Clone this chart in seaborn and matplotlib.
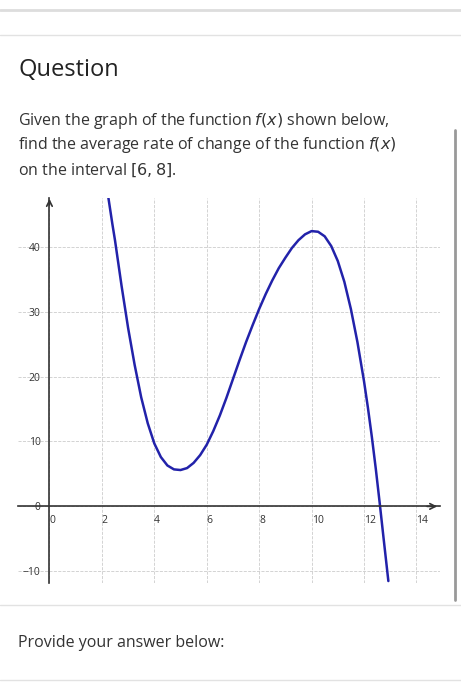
import matplotlib
matplotlib.use('Agg')
import matplotlib.pyplot as plt
import seaborn as sns
import pandas as pd

# points
x_vals = [2.25, 2.4, 2.5, 2.75, 3.0, 3.25, 3.5, 3.75, 4.0, 4.25, 4.5, 4.75, 5.0, 5.25, 5.5, 5.75,
          6.0, 6.25, 6.5, 6.75, 7.0, 7.25, 7.5, 7.75, 8.0, 8.25, 8.5, 8.75, 9.0, 9.25, 9.5, 9.75,
          10.0, 10.25, 10.5, 10.75, 11.0, 11.25, 11.5, 11.75, 12.0, 12.15, 12.3, 12.45, 12.6, 12.75, 12.93]
y_vals = [47.5, 43.5, 41, 34, 27.5, 21.8, 16.8, 12.8, 9.7, 7.6, 6.3, 5.7, 5.6, 5.9, 6.7, 7.9,
          9.5, 11.6, 14, 16.7, 19.6, 22.5, 25.3, 27.9, 30.4, 32.7, 34.8, 36.7, 38.3, 39.8, 41, 41.9,
          42.4, 42.3, 41.6, 40.1, 37.8, 34.6, 30.4, 25.3, 19.3, 15.2, 10.7, 5.8, 0.5, -5, -11.5]
x_ticks = [0, 2, 4, 6, 8, 10, 12, 14]
y_ticks = [-10, 0, 10, 20, 30, 40]

df = pd.DataFrame({'x': x_vals, 'y': y_vals})

sns.set_style('white')
plt.rcParams['font.family'] = ['Open Sans', 'DejaVu Sans']

fig = plt.figure(figsize=(4.61, 7), dpi=100)
W, H = 461, 700

# card frame lines
fig.add_artist(plt.Line2D([0, 1], [1 - 10 / H] * 2, color='#dddddd', lw=2))
fig.add_artist(plt.Line2D([0, 1], [1 - 35 / H] * 2, color='#e2e2e2', lw=1))
fig.add_artist(plt.Line2D([0, 1], [1 - 605 / H] * 2, color='#e2e2e2', lw=1))
fig.add_artist(plt.Line2D([0, 1], [1 - 680 / H] * 2, color='#e2e2e2', lw=1))
fig.add_artist(plt.Line2D([455 / W] * 2, [1 - 130 / H, 1 - 600 / H], color='#999999', lw=2))

fig.text(18 / W, 1 - 70 / H, 'Question', fontsize=17, color='#222222', va='center')
fig.text(18 / W, 1 - 121 / H, 'Given the graph of the function $f(x)$ shown below,',
         fontsize=11.5, color='#333333', va='center')
fig.text(18 / W, 1 - 145 / H, 'find the average rate of change of the function $f(x)$',
         fontsize=11.5, color='#333333', va='center')
fig.text(18 / W, 1 - 170 / H, 'on the interval $[6, 8]$.',
         fontsize=11.5, color='#333333', va='center')
fig.text(18 / W, 1 - 643 / H, 'Provide your answer below:', fontsize=11.5,
         color='#333333', va='center')

ax = fig.add_axes([18 / W, 1 - 583 / H, 422 / W, 385 / H])
sns.lineplot(data=df, x='x', y='y', ax=ax, color='#2222aa', lw=1.8)
ax.set_xlim(-1.2, 14.9)
ax.set_ylim(-11.8, 47.5)
ax.set_xticks(x_ticks)
ax.set_yticks(y_ticks)
ax.grid(True, color='#cccccc', ls='--', lw=0.6)
ax.set_xlabel('')
ax.set_ylabel('')
for s in ['top', 'right']:
    ax.spines[s].set_visible(False)
ax.spines['left'].set_position(('data', 0))
ax.spines['bottom'].set_position(('data', 0))
ax.spines['left'].set_color('#333333')
ax.spines['bottom'].set_color('#333333')
ax.spines['left'].set_linewidth(1.2)
ax.spines['bottom'].set_linewidth(1.2)
ax.annotate('', xy=(14.9, 0), xytext=(14.3, 0),
            arrowprops=dict(arrowstyle='->', color='#333333', lw=1.2), annotation_clip=False)
ax.annotate('', xy=(0, 47.8), xytext=(0, 46),
            arrowprops=dict(arrowstyle='->', color='#333333', lw=1.2), annotation_clip=False)
ax.tick_params(axis='both', labelsize=7.5, colors='#333333', length=3, direction='out')
ax.set_xticklabels([str(t) for t in x_ticks], ha='left')

plt.savefig('out.png', dpi=100)
